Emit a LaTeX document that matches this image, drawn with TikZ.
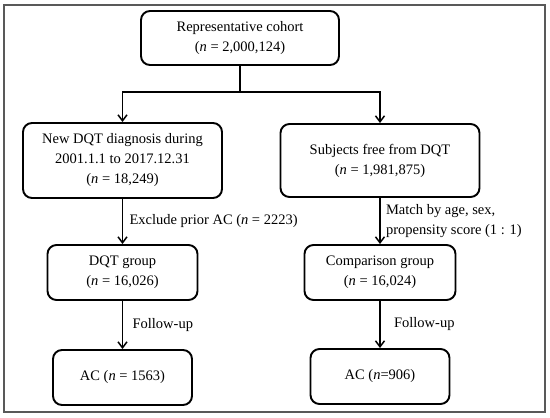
\documentclass[tikz,border=0pt]{standalone}
\usepackage{fontspec}
\setmainfont{Liberation Serif}
\usetikzlibrary{arrows.meta,positioning}

\begin{document}
\begin{tikzpicture}[->, x=1pt, y=-1pt, line width=1.5pt, >={Straight Barb[length=6pt,width=9pt]}]
\tikzstyle{every node} = [font=\fontsize{14.5}{20}\selectfont]
\tikzstyle{stage} = [draw, rounded corners=9pt, align=center, line width=1.9pt, inner sep=2pt]
\tikzstyle{note} = [right, align=left]
\useasboundingbox (0,0) rectangle (550,418);
\draw[-, line width=1.3pt, black!65] (4,5) rectangle (545,412);
\node[stage, minimum width=198, minimum height=54] (cohort) at (240,38) {Representative cohort\\(\textit{n} = 2,000,124)};
\node[stage, minimum width=199, minimum height=75] (dqt) at (122.5,160.5) {New DQT diagnosis during\\2001.1.1 to 2017.12.31\\(\textit{n} = 18,249)};
\node[stage, minimum width=199, minimum height=73] (free) at (380,160.5) {Subjects free from DQT\\(\textit{n} = 1,981,875)};
\node[stage, minimum width=150, minimum height=55] (dqtgrp) at (122.5,272.5) {DQT group\\(\textit{n} = 16,026)};
\node[stage, minimum width=151, minimum height=55] (cmpgrp) at (380,272.5) {Comparison group\\(\textit{n} = 16,024)};
\node[stage, minimum width=139, minimum height=55] (acdqt) at (122.5,377.5) {AC (\textit{n} = 1563)};
\node[stage, minimum width=139, minimum height=55] (accmp) at (380,376.5) {AC (\textit{n}=906)};
\coordinate (fork) at (240,92);
\draw[-] (cohort) -- (fork);
\draw (fork) -| (dqt);
\draw (fork) -| (free);
\path (dqt) edge node[note, xshift=3pt] {Exclude prior AC (\textit{n} = 2223)} (dqtgrp)
(free) edge node[note, xshift=2pt] {Match by age, sex,\\propensity score (1 : 1)} (cmpgrp)
(dqtgrp) edge node[note, xshift=6pt] {Follow-up} (acdqt)
(cmpgrp) edge node[note, xshift=10pt] {Follow-up} (accmp);
\end{tikzpicture}
\end{document}
